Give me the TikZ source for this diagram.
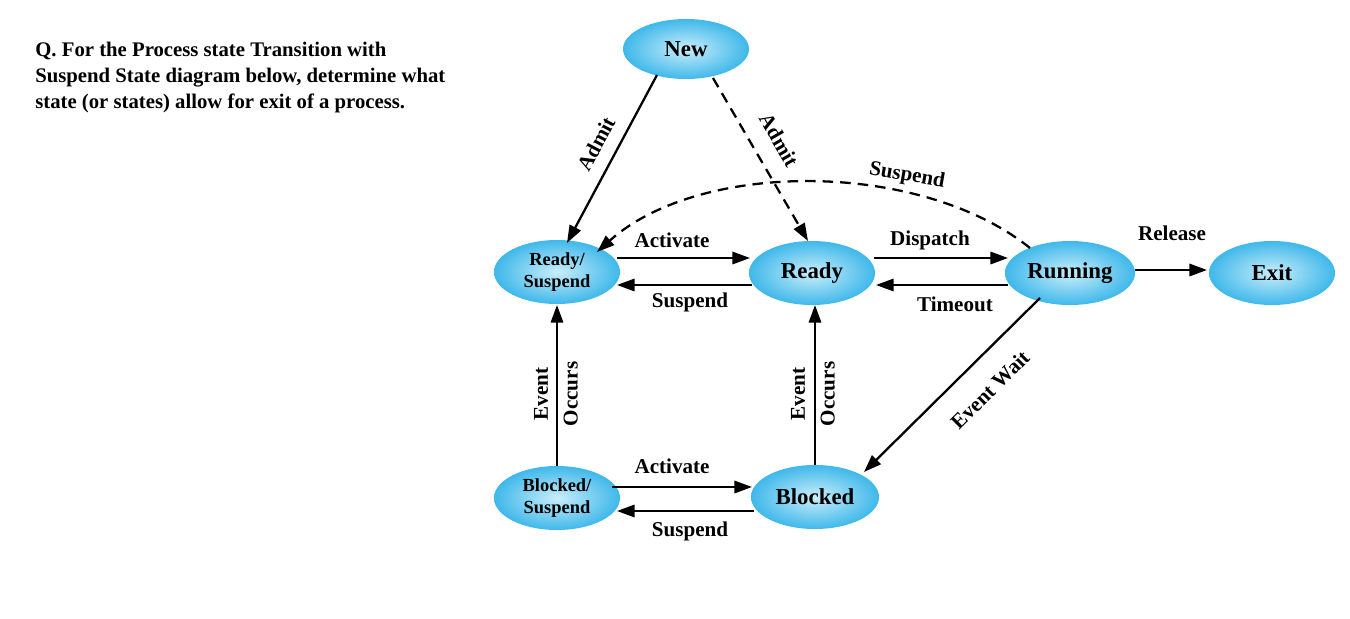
\documentclass[tikz,border=0pt]{standalone}
\usepackage{fontspec}
\setmainfont{Liberation Serif}
\usetikzlibrary{arrows.meta,shapes.geometric}
\definecolor{edgeb}{HTML}{3FB8EA}
\definecolor{midb}{HTML}{A6E2F8}
\begin{document}
\begin{tikzpicture}[x=0.02cm,y=-0.02cm,
 st/.style={ellipse,inner sep=0pt,minimum width=126*0.02cm,minimum height=64*0.02cm,
   inner color=midb!60!white,outer color=edgeb,font=\fontsize{13}{14}\bfseries,align=center},
 sm/.style={font=\fontsize{10.5}{13}\bfseries},
 ar/.style={line width=1.3pt,-{Triangle[length=10pt,width=7pt]}},
 da/.style={ar,dash pattern=on 6pt off 4pt},
 lb/.style={font=\fontsize{12}{13}\bfseries,inner sep=1pt},
 vl/.style={lb,rotate=90,align=center,font=\fontsize{12}{17}\bfseries}]
\useasboundingbox (0,0) rectangle (1350,619);
\node[anchor=north west,align=left,font=\fontsize{11.8}{14.7}\bfseries,inner sep=0pt] (q) at (35,42)
 {Q. For the Process state Transition with\\Suspend State diagram below, determine what\\state (or states) allow for exit of a process.};
\node[st,minimum height=60*0.02cm] (new) at (686,49) {New};
\node[st,sm] (rs) at (557,272) {Ready/\\Suspend};
\node[st] (ready) at (812,273) {Ready};
\node[st,minimum width=130*0.02cm] (run) at (1070,273) {Running};
\node[st] (exit) at (1272,273) {Exit};
\node[st,sm] (bs) at (557,498) {Blocked/\\Suspend};
\node[st,minimum width=128*0.02cm] (blk) at (815,497) {Blocked};
\coordinate (n1) at (657,75); \coordinate (rs1) at (567,243);
\draw[ar] (n1) -- (rs1);
\node[lb,rotate=62] (l1) at (596,144) {Admit};
\coordinate (n2) at (713,78); \coordinate (r2) at (808,241);
\draw[da] (n2) -- (r2);
\node[lb,rotate=-60] (l2) at (779,140) {Admit};
\coordinate (u1) at (1030,248); \coordinate (u2) at (597,252);
\draw[da] (u1) .. controls (920,160) and (700,160) .. (u2);
\node[lb,rotate=-10] (sl) at (907,176) {Suspend};
\coordinate (a1) at (617,258); \coordinate (a2) at (750,258);
\draw[ar] (a1) -- (a2); \node[lb] (la) at (672,240) {Activate};
\coordinate (b1) at (752,285); \coordinate (b2) at (617,285);
\draw[ar] (b1) -- (b2); \node[lb] (lb1) at (690,302) {Suspend};
\coordinate (c1) at (874,258); \coordinate (c2) at (1008,258);
\draw[ar] (c1) -- (c2); \node[lb] (lc) at (930,240) {Dispatch};
\coordinate (d1) at (1008,285); \coordinate (d2) at (876,285);
\draw[ar] (d1) -- (d2); \node[lb] (ld) at (955,304) {Timeout};
\coordinate (e1) at (1135,270); \coordinate (e2) at (1207,270);
\draw[ar] (e1) -- (e2); \node[lb] (le) at (1172,233) {Release};
\coordinate (f1) at (1040,298); \coordinate (f2) at (864,472);
\draw[ar] (f1) -- (f2); \node[lb,rotate=45] (lf) at (990,390) {Event Wait};
\coordinate (g1) at (557,466); \coordinate (g2) at (557,305);
\draw[ar] (g1) -- (g2); \node[vl] (lg) at (556,394) {Event\\Occurs};
\coordinate (h1) at (815,465); \coordinate (h2) at (815,305);
\draw[ar] (h1) -- (h2); \node[vl] (lh) at (813,394) {Event\\Occurs};
\coordinate (i1) at (612,487); \coordinate (i2) at (752,487);
\draw[ar] (i1) -- (i2); \node[lb] (li) at (672,466) {Activate};
\coordinate (j1) at (754,511); \coordinate (j2) at (617,511);
\draw[ar] (j1) -- (j2); \node[lb] (lj) at (690,531) {Suspend};
\end{tikzpicture}
\end{document}
